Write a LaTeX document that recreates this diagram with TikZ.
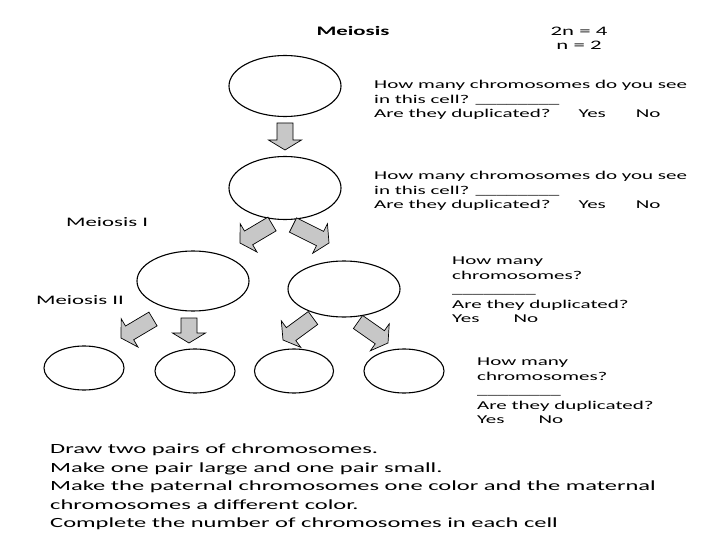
\documentclass[tikz,border=0pt]{standalone}
\usepackage{fontspec}
\setmainfont[FakeStretch=1.75]{Carlito}
\usetikzlibrary{calc}
\usetikzlibrary{shapes.geometric}

% fat grey arrow from tail #1 to tip #2
\newcommand{\fatarrow}[2]{%
  \coordinate (hb) at ($(#2)!10pt!(#1)$);
  \draw[blockarr] ($(#1)!8pt!90:(#2)$) -- ($(hb)!8pt!-90:(#1)$) -- ($(hb)!16.5pt!-90:(#1)$)
    -- (#2) -- ($(hb)!16.5pt!90:(#1)$) -- ($(hb)!8pt!90:(#1)$) -- ($(#1)!8pt!-90:(#2)$) -- cycle;
}

\begin{document}
\begin{tikzpicture}[x=1pt,y=-1pt,
  cell/.style={draw,ellipse,line width=1.1pt,inner sep=0pt},
  blockarr/.style={draw,line width=0.7pt,fill=black!22,line join=miter},
  qtext/.style={anchor=north west,align=left,inner sep=0pt,font=\fontsize{12}{14.5}\selectfont}]
\useasboundingbox (0,0) rectangle (720,540);

% headings
\node[font=\bfseries\fontsize{13}{15}\selectfont] (title) at (353,31) {Meiosis};
\node[align=center,inner sep=0pt,font=\fontsize{13}{14}\selectfont] (ploidy) at (579,38) {2n = 4\\n = 2};
\node[anchor=west,inner sep=0pt,font=\fontsize{13}{15}\selectfont] (m1) at (66,222) {Meiosis I};
\node[anchor=west,inner sep=0pt,font=\fontsize{13}{15}\selectfont] (m2) at (36,300) {Meiosis II};

% cells
\node[cell,minimum width=112pt,minimum height=61pt] (c1) at (285,86) {};
\node[cell,minimum width=112pt,minimum height=63pt] (c2) at (285,188) {};
\node[cell,minimum width=112pt,minimum height=60pt] (c3) at (193,281) {};
\node[cell,minimum width=112pt,minimum height=56pt] (c4) at (344,289) {};
\node[cell,minimum width=80pt,minimum height=44pt] (d1) at (84,368) {};
\node[cell,minimum width=80pt,minimum height=44pt] (d2) at (195,371) {};
\node[cell,minimum width=79pt,minimum height=44pt] (d3) at (294,371) {};
\node[cell,minimum width=80pt,minimum height=44pt] (d4) at (404,371) {};

% arrows
\coordinate (t1) at (285,123); \coordinate (p1) at (285,150);
\coordinate (t2) at (272,224); \coordinate (p2) at (240,243);
\coordinate (t3) at (293,225); \coordinate (p3) at (329,243);
\coordinate (t4) at (153,319); \coordinate (p4) at (121,338);
\coordinate (t5) at (189,318); \coordinate (p5) at (189,343);
\coordinate (t6) at (313,318); \coordinate (p6) at (283,340);
\coordinate (t7) at (358,322); \coordinate (p7) at (388,343);
\foreach \i in {1,...,7} {\fatarrow{t\i}{p\i}}

% questions
\node[qtext] (q1) at (374,80) {How many chromosomes do you see\\in this cell? \_\_\_\_\_\_\_\_\\Are they duplicated?\hspace{28pt}Yes\hspace{30pt}No};
\node[qtext] (q2) at (374,171) {How many chromosomes do you see\\in this cell? \_\_\_\_\_\_\_\_\\Are they duplicated?\hspace{28pt}Yes\hspace{30pt}No};
\node[qtext] (q3) at (452,257) {How many\\chromosomes?\\\_\_\_\_\_\_\_\_\\Are they duplicated?\\Yes\hspace{34pt}No};
\node[qtext] (q4) at (477,358) {How many\\chromosomes?\\\_\_\_\_\_\_\_\_\\Are they duplicated?\\Yes\hspace{34pt}No};

% instructions
\node[qtext,font=\fontsize{14}{18.5}\selectfont] (howto) at (50,444) {Draw two pairs of chromosomes.\\Make one pair large and one pair small.\\Make the paternal chromosomes one color and the maternal\\chromosomes a different color.\\Complete the number of chromosomes in each cell};
\end{tikzpicture}
\end{document}
